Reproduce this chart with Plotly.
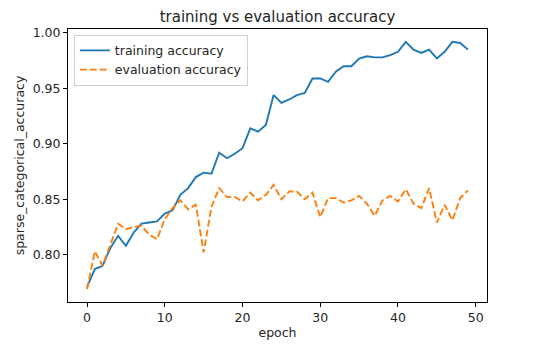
import plotly.graph_objects as go

epochs = list(range(50))
training_accuracy = [
    0.771, 0.787, 0.790, 0.806, 0.817, 0.808, 0.820, 0.828, 0.829, 0.830,
    0.837, 0.840, 0.854, 0.860, 0.870, 0.874, 0.873, 0.892, 0.887, 0.891,
    0.896, 0.914, 0.911, 0.917, 0.944, 0.937, 0.940, 0.944, 0.946, 0.959,
    0.959, 0.956, 0.965, 0.970, 0.970, 0.977, 0.979, 0.978, 0.978, 0.980,
    0.983, 0.992, 0.985, 0.982, 0.985, 0.977, 0.983, 0.992, 0.991, 0.985,
]
evaluation_accuracy = [
    0.769, 0.803, 0.790, 0.809, 0.828, 0.823, 0.825, 0.826, 0.818, 0.814,
    0.832, 0.842, 0.849, 0.841, 0.845, 0.802, 0.843, 0.860, 0.852, 0.852,
    0.848, 0.856, 0.849, 0.854, 0.863, 0.850, 0.857, 0.857, 0.850, 0.856,
    0.834, 0.851, 0.851, 0.847, 0.849, 0.853, 0.846, 0.835, 0.849, 0.853,
    0.848, 0.859, 0.846, 0.842, 0.860, 0.829, 0.845, 0.831, 0.851, 0.858,
]
x_ticks = [0, 10, 20, 30, 40, 50]
y_ticks = [0.80, 0.85, 0.90, 0.95, 1.00]

FONT = "DejaVu Sans"
TXT = "#262626"

fig = go.Figure()
fig.add_trace(go.Scatter(
    x=epochs, y=training_accuracy, mode="lines", name="training accuracy",
    line=dict(color="#1f77b4", width=1.9),
))
fig.add_trace(go.Scatter(
    x=epochs, y=evaluation_accuracy, mode="lines", name="evaluation accuracy",
    line=dict(color="#ff7f0e", width=1.9, dash="6.9px,3px"),
))

axis_common = dict(
    showline=True, linecolor="#000000", linewidth=1, mirror=True,
    ticks="outside", ticklen=4, tickcolor="#000000", tickwidth=1,
    showgrid=False, zeroline=False,
    tickfont=dict(family=FONT, size=12.5, color=TXT),
    title_font=dict(family=FONT, size=12.5, color=TXT),
)

fig.update_layout(
    width=541, height=351,
    margin=dict(l=68, r=54, t=29, b=49),
    paper_bgcolor="white", plot_bgcolor="white",
    font=dict(family=FONT, size=12.5, color=TXT),
    title=dict(text="training vs evaluation accuracy", x=(68 + 487) / 2 / 541,
               xanchor="center", y=1 - 17 / 351, yanchor="middle",
               font=dict(family=FONT, size=15, color=TXT)),
    xaxis=dict(range=[-2.45, 51.45], tickvals=x_ticks, title=dict(text="epoch", standoff=4), **axis_common),
    yaxis=dict(range=[0.7573, 1.0036], tickvals=y_ticks, tickformat=".2f",
               title=dict(text="sparse_categorical_accuracy", standoff=5), **axis_common),
    legend=dict(x=0.014, y=0.979, xanchor="left", yanchor="top",
                bgcolor="rgba(255,255,255,0.8)", bordercolor="#d0d0d0", borderwidth=1,
                font=dict(family=FONT, size=12.5, color=TXT),
                tracegroupgap=0, itemwidth=30),
    showlegend=True,
)

fig.write_html("out.html")
